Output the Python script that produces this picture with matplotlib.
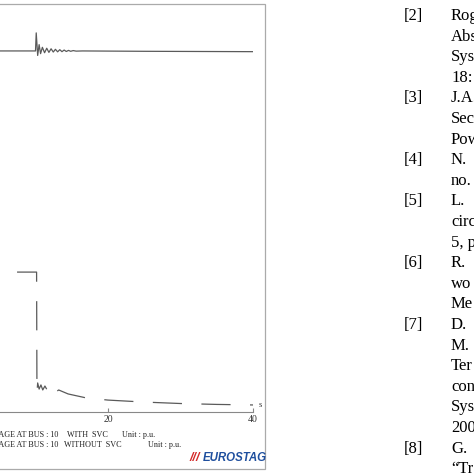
import matplotlib
matplotlib.use("Agg")
import matplotlib.pyplot as plt
from matplotlib.patches import Rectangle

plt.rcParams['lines.scale_dashes'] = False

# voltage at bus 10, with SVC (solid)
t_svc = [0, 10.0, 10.1, 10.3, 10.5, 10.7, 10.95, 11.25, 11.55, 11.85, 12.15, 12.45,
         12.75, 13.05, 13.35, 13.65, 13.95, 14.25, 14.55, 14.85, 15.2, 15.6, 16.5, 25, 40]
v_svc = [1.0, 1.0, 1.0100, 0.9975, 1.0035, 0.9985, 1.0020, 0.9990, 1.0015, 0.9992, 1.0012, 0.9994,
         1.0009, 0.9995, 1.0007, 0.9996, 1.0005, 0.9997, 1.0003, 0.9998, 1.0002, 0.9999, 1.0, 0.9998, 0.9996]

# voltage at bus 10, without SVC (dashed)
t_nosvc = [0, 10.15, 10.2, 10.3, 10.5, 10.75, 11.0, 11.3, 11.6, 11.9, 12.2, 12.5, 12.8, 13.2,
           14.5, 17, 20, 25, 30, 35, 40]
v_nosvc = [0.8775, 0.8775, 0.8105, 0.8161, 0.8127, 0.8150, 0.8122, 0.8144, 0.8122, 0.8139, 0.8116,
           0.8133, 0.8111, 0.8122, 0.8100, 0.8078, 0.8066, 0.8055, 0.8047, 0.8042, 0.8039]

xticks = [0, 20, 40]
legend_names = ["VOLTAGE AT BUS : 10", "VOLTAGE AT BUS : 10"]
legend_cases = ["WITH  SVC", "WITHOUT  SVC"]

ref_nums = ["[2]", "[3]", "[4]", "[5]", "[6]", "[7]", "[8]"]
ref_lines = [["Rog", "Abs", "Sys", "18:"],
             ["J.A.", "Sec", "Pow"],
             ["N.", "no."],
             ["L.", "circ", "5, p"],
             ["R.", "wo", "Me"],
             ["D.", "M.", "Ter", "con", "Sys", "200"],
             ["G.", "\u201cTr"]]

W = H = 474
def fx(px):
    return px / W
def fy(py):
    return 1 - py / H

fig = plt.figure(figsize=(4.74, 4.74), dpi=100)
fig.patch.set_facecolor('white')

# chart frame
fig.patches.append(Rectangle((fx(-100), fy(469)), fx(365), (469 - 4) / H,
                             transform=fig.transFigure, fill=False,
                             edgecolor='#aaaaaa', lw=0.9))

ax = fig.add_axes([fx(-37), fy(412), (253 + 37) / W, (412 - 30) / H])
ax.set_facecolor('none')
ax.plot(t_svc, v_svc, color='#5a5a5a', lw=0.9)
ax.plot(t_nosvc, v_nosvc, color='#5a5a5a', lw=0.9, linestyle=(22, (21, 14)))
ax.set_xlim(0, 40)
ax.set_ylim(0.8, 1.0116)
for s in ['top', 'right', 'left']:
    ax.spines[s].set_visible(False)
ax.spines['bottom'].set_color('#888888')
ax.spines['bottom'].set_linewidth(0.8)
ax.set_yticks([])
ax.set_xticks(xticks)
ax.set_xticklabels([str(v) for v in xticks], family='Liberation Serif', fontsize=7, color='#333333')
ax.tick_params(axis='x', direction='in', length=3, color='#888888', pad=2)

fig.text(fx(259), fy(405), "s", family='Liberation Serif', fontsize=6, color='#333333',
         ha='left', va='center')

# legend lines
for i, (nm, case) in enumerate(zip(legend_names, legend_cases)):
    y = fy(435 + 10 * i)
    fig.text(fx(58), y, nm, family='Liberation Serif', fontsize=5.9, color='#222222',
             ha='right', va='center')
    fig.text(fx(67 - 3 * i), y, case, family='Liberation Serif', fontsize=5.9, color='#222222',
             ha='left', va='center')
    fig.text(fx(122 + 26 * i), y, "Unit : p.u.", family='Liberation Serif', fontsize=5.9,
             color='#222222', ha='left', va='center')

# logo
fig.text(fx(189), fy(458), "///", family='Liberation Sans', fontsize=9, weight='bold',
         style='italic', color='#d42a2a', ha='left', va='center')
fig.text(fx(203), fy(458), "EUROSTAG", family='Liberation Sans', fontsize=8.3, weight='bold',
         style='italic', color='#1f4f9e', ha='left', va='center')

# reference list on the right
k = 0
for num, lines in zip(ref_nums, ref_lines):
    for j, ln in enumerate(lines):
        y = fy(16 + 20.6 * k)
        if j == 0:
            fig.text(fx(404), y, num, family='Liberation Serif', fontsize=12, color='black',
                     ha='left', va='center')
        fig.text(fx(451), y, ln, family='Liberation Serif', fontsize=12, color='black',
                 ha='left', va='center')
        k += 1

fig.savefig('out.png', dpi=100)
